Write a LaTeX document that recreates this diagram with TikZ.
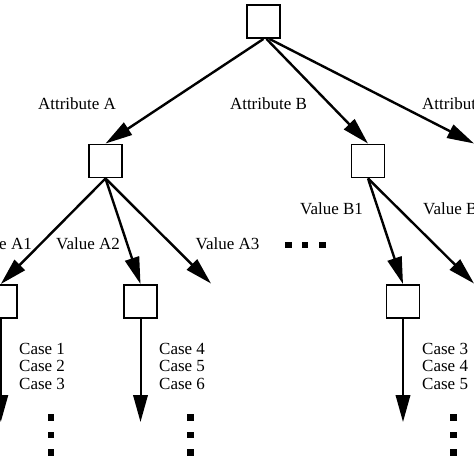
\documentclass[tikz,border=0pt]{standalone}
\usepackage{fontspec}
\setmainfont{Liberation Serif}
\usetikzlibrary{arrows.meta}
\begin{document}
\begin{tikzpicture}[x=1pt,y=-1pt,
  box/.style={draw,line width=1.9pt,minimum size=33pt,inner sep=0pt,fill=white},
  conn/.style={line width=2.4pt,-{Triangle[length=27pt,width=14.5pt]}},
  vconn/.style={line width=2pt,-{Triangle[length=27pt,width=14.5pt]}},
  lbl/.style={inner sep=0pt,font=\fontsize{17}{17.5}\selectfont},
  dot/.style={fill=black}]
\useasboundingbox (0,0) rectangle (474,474);
\clip (0,0) rectangle (474,474);
% boxes
\node[box] (root) at (263.5,21.5) {};
\node[box] (A) at (105.5,161) {};
\node[box] (B) at (368,161) {};
\node[box] (A1) at (0.8,301.5) {};
\node[box] (A2) at (140.5,301.5) {};
\node[box] (B1) at (403,301.5) {};
% free ends
\coordinate (C) at (474,143.5);
\coordinate (A3) at (211,283.5);
\coordinate (B2) at (474,283.5);
\coordinate (A1e) at (0.8,422);
\coordinate (A2e) at (140.5,422);
\coordinate (B1e) at (403,422);
% connectors
\draw[conn] (root.south) -- (A.north);
\draw[conn] ([xshift=3pt]root.south) -- (B.north);
\draw[conn] ([xshift=6pt]root.south) -- (C);
\draw[conn] (A.south) -- (A1.north);
\draw[conn] (A.south) -- (A2.north);
\draw[conn] (A.south) -- (A3);
\draw[conn] (B.south) -- (B1.north);
\draw[conn] (B.south) -- (B2);
\draw[vconn] (A1.south) -- (A1e);
\draw[vconn] (A2.south) -- (A2e);
\draw[vconn] (B1.south) -- (B1e);
% labels
\node[lbl,anchor=base] (la) at (77,109) {Attribute A};
\node[lbl,anchor=base] (lb) at (268.5,109) {Attribute B};
\node[lbl,anchor=base west] (lc) at (422,109) {Attribute C};
\node[lbl,anchor=base east] (la1) at (32,249) {Value A1};
\node[lbl,anchor=base] (la2) at (88,249) {Value A2};
\node[lbl,anchor=base] (la3) at (227.5,249) {Value A3};
\node[lbl,anchor=base] (lb1) at (331.5,214) {Value B1};
\node[lbl,anchor=base west] (lb2) at (423,214) {Value B2};
\node[lbl,anchor=base west,align=left] (c1) at (19,389) {Case 1\\Case 2\\Case 3};
\node[lbl,anchor=base west,align=left] (c2) at (159,389) {Case 4\\Case 5\\Case 6};
\node[lbl,anchor=base west,align=left] (c3) at (422,389) {Case 3\\Case 4\\Case 5};
% ellipsis dots
\foreach \x in {288.5,305,322.5} \fill[dot] (\x-3.3,245-3.3) rectangle (\x+3.3,245+3.3);
\foreach \x in {51,190.7,453.3} \foreach \y in {417.5,435,452.5}
  \fill[dot] (\x-3.3,\y-3.3) rectangle (\x+3.3,\y+3.3);
\end{tikzpicture}
\end{document}
